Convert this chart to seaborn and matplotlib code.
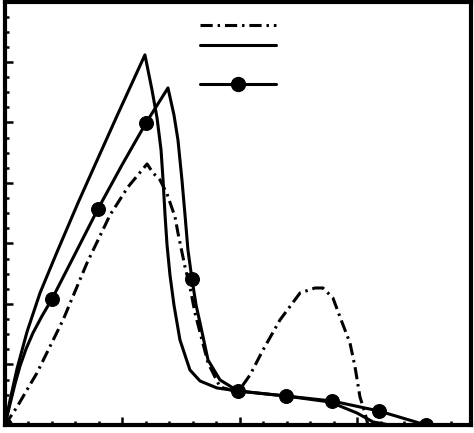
import numpy as np
import pandas as pd
import matplotlib
matplotlib.use("Agg")
import matplotlib.pyplot as plt
from matplotlib.lines import Line2D
from matplotlib.ticker import MultipleLocator
import seaborn as sns

# --- data (x, y in axis units) ---
dashdot_x = [0, 0.102, 0.272, 0.494, 0.698, 0.894, 1.047, 1.209, 1.26, 1.319, 1.379,
             1.447, 1.472, 1.532, 1.574, 1.617, 1.728, 1.83, 1.983, 2.085, 2.196,
             2.34, 2.511, 2.638, 2.706, 2.791, 2.851, 2.936, 2.979, 3.021, 3.064, 3.089]
dashdot_y = [0, 0.298, 0.86, 1.736, 2.678, 3.471, 3.934, 4.314, 4.165, 4.05, 3.818,
             3.438, 3.174, 2.612, 2.281, 1.851, 1.025, 0.628, 0.545, 0.826, 1.24,
             1.736, 2.182, 2.264, 2.264, 2.099, 1.785, 1.355, 0.959, 0.463, 0.198, 0]

solid_x = [0, 0.043, 0.102, 0.187, 0.298, 0.443, 0.621, 0.766, 0.953, 1.191, 1.251,
           1.294, 1.328, 1.345, 1.362, 1.379, 1.404, 1.438, 1.489, 1.574, 1.66,
           1.804, 1.983, 2.391, 2.766, 2.996, 3.132, 3.277, 3.957]
solid_y = [0, 0.413, 0.926, 1.537, 2.182, 2.86, 3.669, 4.298, 5.107, 6.116, 5.537,
           5.074, 4.545, 4.05, 3.471, 2.975, 2.479, 1.983, 1.405, 0.909, 0.727,
           0.612, 0.562, 0.479, 0.38, 0.198, 0.05, 0, 0]

marker_x = [0, 0.043, 0.085, 0.128, 0.179, 0.238, 0.315, 0.4, 0.596, 0.791, 0.996,
            1.2, 1.387, 1.438, 1.472, 1.506, 1.532, 1.557, 1.591, 1.626, 1.66,
            1.728, 1.83, 1.983, 2.391, 2.783, 3.183, 3.583, 3.957]
marker_y = [0, 0.347, 0.678, 0.975, 1.256, 1.521, 1.802, 2.083, 2.826, 3.57, 4.298,
            4.992, 5.57, 5.124, 4.711, 4.05, 3.471, 2.893, 2.413, 1.983, 1.686,
            1.074, 0.744, 0.562, 0.479, 0.397, 0.231, 0, 0]
marker_idx = [0, 7, 9, 11, 18, 23, 24, 25, 26, 27]

sns.set_style("ticks")
plt.rcParams["font.family"] = ["DejaVu Sans"]

fig = plt.figure(figsize=(4.74, 4.33), dpi=100)
ax = fig.add_axes([5 / 474, 8 / 433, 466 / 474, 423 / 433])

lw = 2.2
dd = (0, (4, 1.6, 0.8, 1.6))

sns.lineplot(x=dashdot_x, y=dashdot_y, ax=ax, sort=False, color="black",
             linewidth=lw, linestyle=dd)
sns.lineplot(x=solid_x, y=solid_y, ax=ax, sort=False, color="black", linewidth=lw)
sns.lineplot(x=marker_x, y=marker_y, ax=ax, sort=False, color="black", linewidth=lw,
             marker="o", markersize=10, markevery=marker_idx, markeredgecolor="black")

ax.set_xlim(0, 3.966)
ax.set_ylim(0, 6.99)
ax.xaxis.set_major_locator(MultipleLocator(1))
ax.xaxis.set_minor_locator(MultipleLocator(0.2))
ax.yaxis.set_major_locator(MultipleLocator(1))
ax.yaxis.set_minor_locator(MultipleLocator(0.25))
ax.tick_params(which="both", direction="in", labelbottom=False, labelleft=False,
               width=1.8, color="black")
ax.tick_params(which="major", length=6)
ax.tick_params(which="minor", length=3)
for s in ax.spines.values():
    s.set_linewidth(3)
    s.set_color("black")
ax.set_xlabel("")
ax.set_ylabel("")

handles = [
    Line2D([], [], color="black", linewidth=lw, linestyle=dd),
    Line2D([], [], color="black", linewidth=lw),
    Line2D([], [], color="none", linewidth=0),
    Line2D([], [], color="black", linewidth=lw, marker="o", markersize=10),
]
ax.legend(handles, [" ", " ", " ", " "], loc="upper left",
          bbox_to_anchor=(185 / 466, 0.983), frameon=False, handlelength=5.5,
          numpoints=1, fontsize=10, labelspacing=0.4, borderaxespad=0.3)

fig.savefig("out.png", dpi=100)
